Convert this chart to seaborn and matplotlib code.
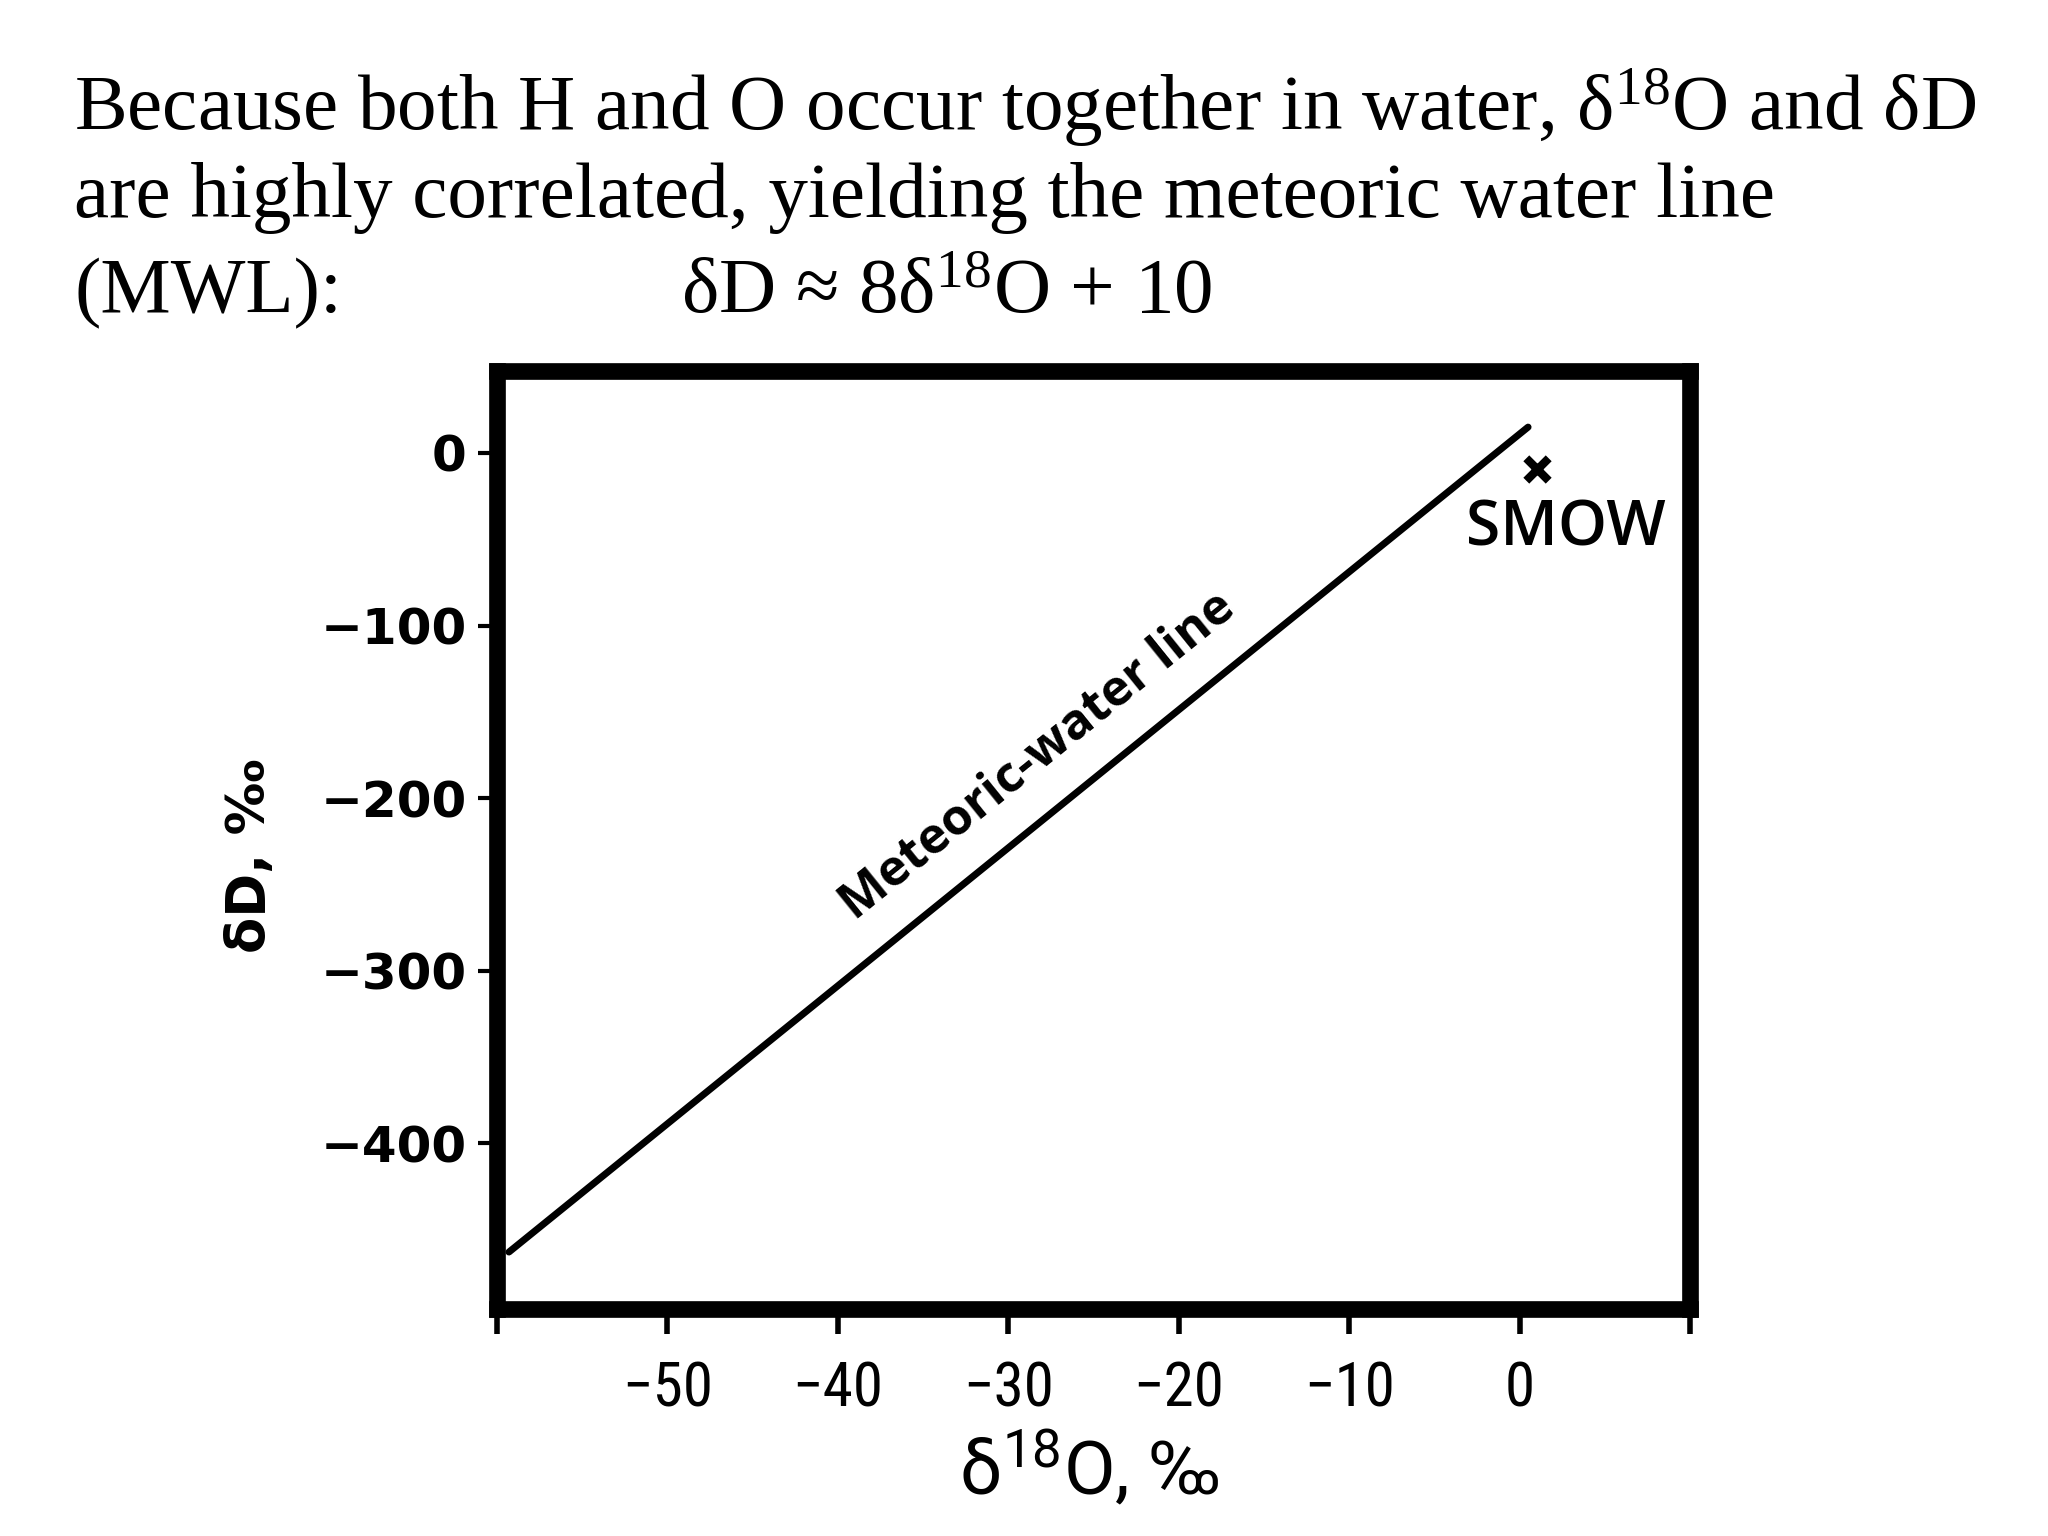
import matplotlib
matplotlib.use("Agg")
import matplotlib.pyplot as plt
from matplotlib import font_manager
import seaborn as sns
import pandas as pd

# meteoric water line as drawn (delta18O vs deltaD, permil)
mwl_o18 = [-59.3, 0.5]
mwl_dD = [-463, 15]
# SMOW mark
smow_o18 = [1.0]
smow_dD = [-9]

x_ticks = [-60, -50, -40, -30, -20, -10, 0, 10]
x_tick_labels = ["", "\u221250", "\u221240", "\u221230", "\u221220", "\u221210", "0", ""]
y_ticks = [0, -100, -200, -300, -400]
y_tick_labels = ["0", "\u2212100", "\u2212200", "\u2212300", "\u2212400"]

title_lines = [
    "Because both H and O occur together in water, \u03b4$^{18}$O and \u03b4D",
    "are highly correlated, yielding the meteoric water line",
    "(MWL):",
]
equation = "\u03b4D \u2248 8\u03b4$^{18}$O + 10"

sns.set_theme(style="white")
plt.rcParams["font.family"] = ["DejaVu Sans"]
plt.rcParams["mathtext.default"] = "regular"
plt.rcParams["text.color"] = "black"
plt.rcParams["axes.labelcolor"] = "black"
plt.rcParams["xtick.color"] = "black"
plt.rcParams["ytick.color"] = "black"

installed = {f.name for f in font_manager.fontManager.ttflist}
def pick(*names):
    for n in names:
        if n in installed:
            return n
    return "DejaVu Sans"

serif = pick("Liberation Serif", "DejaVu Serif")
narrow = pick("Liberation Sans Narrow", "Roboto Condensed", "Roboto", "Liberation Sans")
plain = pick("Roboto", "Liberation Sans")
human = pick("Open Sans", "Lato", "DejaVu Sans")

df = pd.DataFrame({"o18": mwl_o18, "dD": mwl_dD})
smow = pd.DataFrame({"o18": smow_o18, "dD": smow_dD})

fig = plt.figure(figsize=(20.48, 15.36), dpi=100)
ax = fig.add_axes([497 / 2048, 227 / 1536, 1193 / 2048, 938 / 1536])

sns.lineplot(data=df, x="o18", y="dD", ax=ax, color="black", linewidth=5)
sns.scatterplot(data=smow, x="o18", y="dD", ax=ax, marker="x", s=260,
                color="black", linewidth=6)

ax.set_xlim(-60, 10)
ax.set_ylim(-496, 47.5)

for sp in ax.spines.values():
    sp.set_linewidth(12)
    sp.set_color("black")
    sp.set_capstyle("projecting")

ax.set_xticks(x_ticks)
ax.set_xticklabels(x_tick_labels, family=narrow, fontsize=44)
ax.set_yticks(y_ticks)
ax.set_yticklabels(y_tick_labels, family="DejaVu Sans", fontweight="bold", fontsize=36)
ax.tick_params(axis="x", bottom=True, direction="out", length=18, width=4, pad=19)
ax.tick_params(axis="y", left=True, direction="out", length=14, width=3, pad=8)

ax.set_xlabel("\u03b4$^{18}$O, \u2030", family=plain, fontsize=54)
ax.xaxis.set_label_coords(0.496, -0.128)
ax.set_ylabel("\u03b4D, \u2030", family="DejaVu Sans", fontweight="bold", fontsize=38)
ax.yaxis.set_label_coords(-0.185, 0.483)

ax.text(-39, -271, "Meteoric-water line", family=human, fontweight="bold",
        fontsize=36, rotation=38.9, rotation_mode="anchor",
        ha="left", va="baseline")
ax.text(2.7, -44, "SMOW", family=human, fontweight="semibold", fontsize=45,
        ha="center", va="center")

ys = [1 - 130 / 1536, 1 - 217 / 1536, 1 - 312 / 1536]
for line, y in zip(title_lines, ys):
    fig.text(74 / 2048, y, line, family=serif, fontsize=57, va="baseline", ha="left")
fig.text(681 / 2048, ys[2], equation, family=serif, fontsize=57, va="baseline", ha="left")

fig.savefig("out.png", dpi=100)
